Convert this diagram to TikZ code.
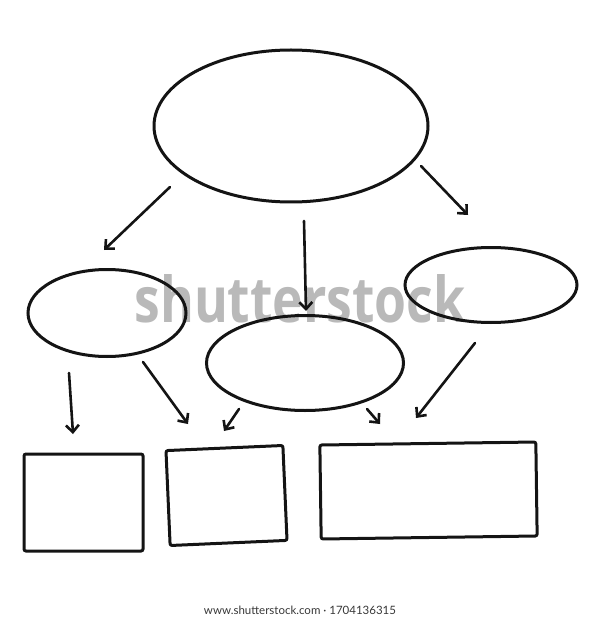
\documentclass[tikz,border=0pt]{standalone}
\usepackage{fontspec}
\setmainfont{Lato}
\newfontfamily\wmfont{Open Sans}
\usetikzlibrary{shapes.geometric,arrows.meta}
\definecolor{ink}{RGB}{20,20,20}
\definecolor{wm}{RGB}{185,185,185}
\begin{document}
\begin{tikzpicture}[x=1pt,y=-1pt,
  bubble/.style={draw=ink,line width=3pt,ellipse,inner sep=0pt},
  boxnode/.style={draw=ink,line width=3pt,rectangle,inner sep=0pt,rounded corners=2pt},
  conn/.style={draw=ink,line width=2.6pt,line cap=round,-{Straight Barb[length=7pt,width=13pt,line width=2.6pt]}}]
\useasboundingbox (0,0) rectangle (600,620);
% watermark
\node[text=wm,inner sep=0pt] (wmark) at (300,299) {\resizebox{331pt}{48pt}{\wmfont\bfseries shutterstock}};
% ellipses
\node[bubble,minimum width=274pt,minimum height=152pt] (top) at (291,126) {};
\node[bubble,minimum width=158pt,minimum height=87pt] (left) at (107,313) {};
\node[bubble,minimum width=197pt,minimum height=95pt] (mid) at (305,363) {};
\node[bubble,minimum width=172pt,minimum height=75pt] (right) at (491,285) {};
% boxes
\node[boxnode,minimum width=119pt,minimum height=97pt] (b1) at (83.5,502.5) {};
\node[boxnode,minimum width=117pt,minimum height=95pt,rotate=2.5] (b2) at (226.5,495.5) {};
\node[boxnode,minimum width=216pt,minimum height=94pt,rotate=0.8] (b3) at (428.5,490.5) {};
% connector ends
\coordinate (a1s) at (170,187); \coordinate (a1e) at (104,250);
\coordinate (a2s) at (304,221); \coordinate (a2e) at (306,311);
\coordinate (a3s) at (421,166); \coordinate (a3e) at (468,215);
\coordinate (a4s) at (69,373);  \coordinate (a4e) at (73,434);
\coordinate (a5s) at (143,362); \coordinate (a5e) at (188,424);
\coordinate (a6s) at (239,409); \coordinate (a6e) at (224,431);
\coordinate (a7s) at (367,409); \coordinate (a7e) at (380,424);
\coordinate (a8s) at (475,343); \coordinate (a8e) at (416,418);
\draw[conn] (a1s) -- (a1e);
\draw[conn] (a2s) -- (a2e);
\draw[conn] (a3s) -- (a3e);
\draw[conn] (a4s) -- (a4e);
\draw[conn] (a5s) -- (a5e);
\draw[conn] (a6s) -- (a6e);
\draw[conn] (a7s) -- (a7e);
\draw[conn] (a8s) -- (a8e);
% credit line
\node[text=ink!85,inner sep=0pt] (credit) at (300,610) {\fontsize{11.5}{12}\selectfont www.shutterstock.com · 1704136315};
\end{tikzpicture}
\end{document}
